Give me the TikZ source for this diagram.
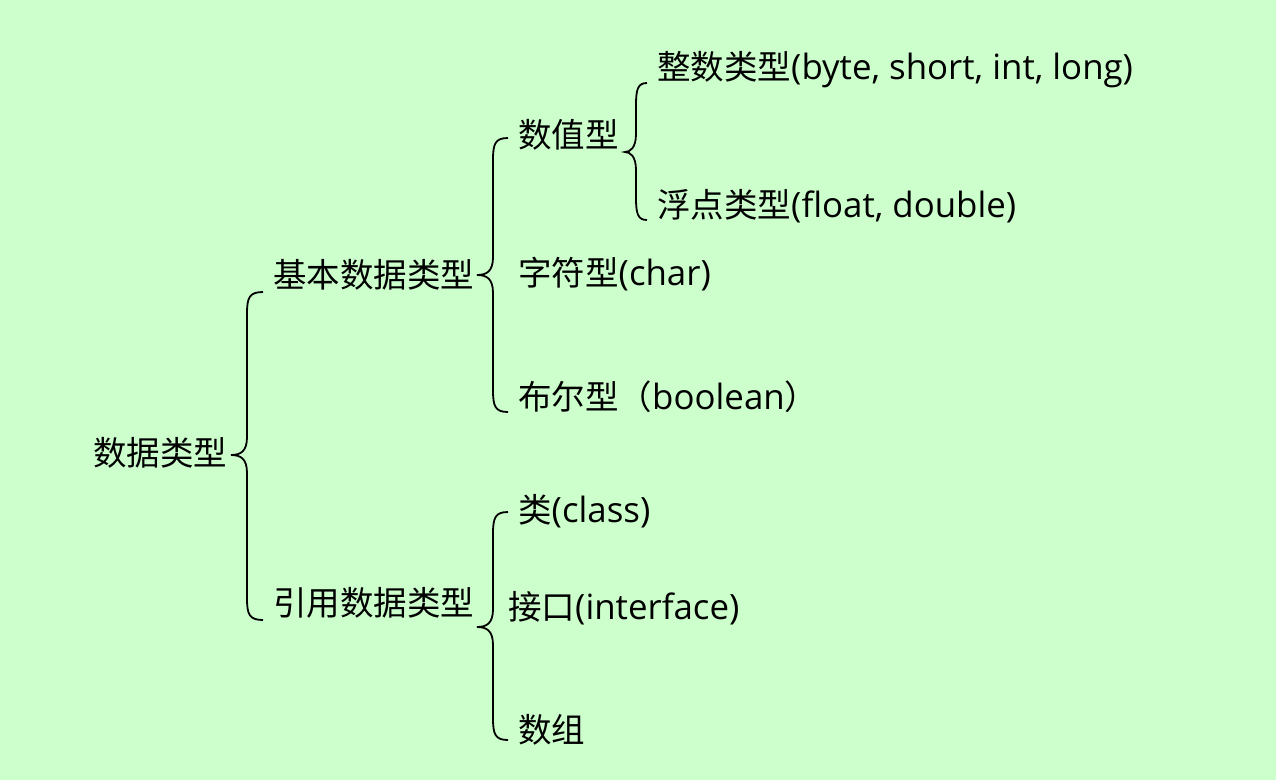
\documentclass[tikz,border=0pt]{standalone}
\usepackage{fontspec}
\setmainfont{Open Sans}[Scale=1.04]
\newfontfamily\cjk{Noto Sans CJK SC}
\definecolor{bg}{RGB}{204,255,204}
\newcommand\mybrace[6]{%
  \draw[bracestyle] (#1,#4) .. controls (#2+2,#4) and (#2,#4+6) .. (#2,#4+22) -- (#2,#5-18)
    .. controls (#2,#5-4) and (#2-6,#5) .. (#3,#5) .. controls (#2-6,#5) and (#2,#5+4) .. (#2,#5+18)
    -- (#2,#6-22) .. controls (#2,#6-6) and (#2+2,#6) .. (#1,#6);}
\begin{document}
\begin{tikzpicture}[x=1pt,y=-1pt,
  bracestyle/.style={line width=1.8pt,black},
  lbl/.style={anchor=west,inner sep=0pt,font=\fontsize{33.5}{36}\selectfont,text height=29.5pt,text depth=4pt}]
\fill[bg] (0,0) rectangle (1276,780);
\useasboundingbox (0,0) rectangle (1276,780);
\node[lbl] (root) at (93,453) {\cjk 数据类型};
\node[lbl] (basic) at (273,275) {\cjk 基本数据类型};
\node[lbl] (ref) at (273,603) {\cjk 引用数据类型};
\node[lbl] (num) at (518,135) {\cjk 数值型};
\node[lbl] (char) at (518,273) {{\cjk 字符型}(char)};
\node[lbl] (bool) at (518,397) {{\cjk 布尔型（}boolean{\cjk ）}};
\node[lbl] (cls) at (518,510) {{\cjk 类}(class)};
\node[lbl] (intf) at (508,607) {{\cjk 接口}(interface)};
\node[lbl] (arr) at (518,730) {\cjk 数组};
\node[lbl] (int) at (657,67) {{\cjk 整数类型}(byte, short, int, long)};
\node[lbl] (flt) at (657,205) {{\cjk 浮点类型}(float, double)};
\mybrace{263}{247}{231}{292}{455}{620}
\mybrace{508}{493}{477}{138}{275}{412}
\mybrace{647}{636}{625}{83}{152}{220}
\mybrace{508}{493}{477}{512}{627}{740}
\end{tikzpicture}
\end{document}
